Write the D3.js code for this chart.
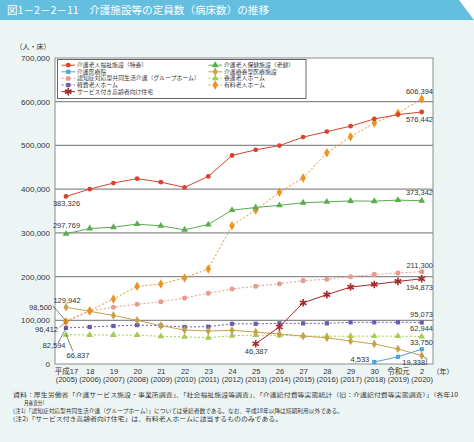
<!DOCTYPE html>
<html>
<head>
<meta charset="utf-8">
<script src="https://cdn.jsdelivr.net/npm/d3@7"></script>
<style>
  body { margin: 0; background: #fff; }
  svg { display: block; }
</style>
</head>
<body>
<div id="chart"></div>
<script>
// data
var years = [2005, 2006, 2007, 2008, 2009, 2010, 2011, 2012, 2013, 2014, 2015, 2016, 2017, 2018, 2019, 2020];
var eraLabels = ["平成17", "18", "19", "20", "21", "22", "23", "24", "25", "26", "27", "28", "29", "30", "令和元", "2"];
var yTicks = [0, 100000, 200000, 300000, 400000, 500000, 600000, 700000];

var tokuyo = [383326, 400000, 414000, 424000, 416000, 404000, 429000, 477000, 490000, 499600, 519000, 531600, 544000, 560600, 570500, 576442];
var roken = [297769, 310000, 313000, 320000, 316000, 307000, 319000, 352000, 358000, 363000, 369000, 371000, 373000, 372500, 375000, 373342];
var iryoin = [null, null, null, null, null, null, null, null, null, null, null, null, null, 4533, 16500, 33750];
var ryoyo = [129942, 120500, 111000, 100000, 87700, 77800, 75500, 77000, 73000, 68600, 64000, 60000, 52600, 45800, 34300, 19338];
var grouphome = [98500, 121000, 130000, 136600, 142600, 151000, 161700, 171600, 177800, 183800, 190700, 193800, 199800, 205000, 208000, 211300];
var yogo = [66837, 66400, 66400, 66000, 63300, 62000, 60200, 64800, 66000, 65600, 64000, 63500, 63700, 63700, 63700, 62944];
var keihi = [82594, 84700, 87000, 89000, 87700, 84700, 85400, 92000, 92000, 93000, 93000, 93000, 95400, 95400, 95400, 95073];
var yuryo = [96412, 122000, 148700, 177800, 183000, 196800, 217400, 316500, 352000, 393000, 425600, 483000, 520000, 551500, 573700, 606394];
var sakoju = [null, null, null, null, null, null, null, null, 46387, 84700, 140000, 158700, 176000, 182000, 189000, 194873];

var numFont = "'Liberation Sans', 'Noto Sans CJK JP', sans-serif";
var jpFont = "'Noto Sans CJK JP', sans-serif";

var series = {
  grouphome: { name: "認知症対応型共同生活介護（グループホーム）", values: grouphome, color: "#e69b91", symbol: d3.symbolCircle, size: 20, dash: "2,2" },
  yogo:      { name: "養護老人ホーム", values: yogo, color: "#a5cd55", symbol: d3.symbolTriangle, size: 20, dash: "2,2" },
  keihi:     { name: "軽費老人ホーム", values: keihi, color: "#6a5cae", symbol: d3.symbolSquare, size: 18, dash: "2,2" },
  ryoyo:     { name: "介護療養型医療施設", values: ryoyo, color: "#c7a24b", symbol: d3.symbolDiamond, size: 22, dash: null },
  iryoin:    { name: "介護医療院", values: iryoin, color: "#4fa3dc", symbol: d3.symbolSquare, size: 18, dash: null },
  yuryo:     { name: "有料老人ホーム", values: yuryo, color: "#ec9422", symbol: d3.symbolDiamond, size: 26, dash: "2,2" },
  sakoju:    { name: "サービス付き高齢者向け住宅", values: sakoju, color: "#a52a2a", symbol: d3.symbolAsterisk, size: 40, dash: null, stroke: true },
  roken:     { name: "介護老人保健施設（老健）", values: roken, color: "#5aac4f", symbol: d3.symbolTriangle, size: 20, dash: null },
  tokuyo:    { name: "介護老人福祉施設（特養）", values: tokuyo, color: "#d8432e", symbol: d3.symbolCircle, size: 18, dash: null }
};
var drawOrder = ["grouphome", "yogo", "keihi", "ryoyo", "iryoin", "yuryo", "sakoju", "roken", "tokuyo"];
var legendLeft = ["tokuyo", "iryoin", "grouphome", "keihi", "sakoju"];
var legendRight = ["roken", "ryoyo", "yogo", "yuryo"];

var svgWidth = 474;
var svgHeight = 442;
var plot = { left: 55, top: 58, right: 433, bottom: 364 };

var svg = d3.select("#chart")
  .append("svg")
  .attr("width", svgWidth)
  .attr("height", svgHeight);

// background + title bar
svg.append("rect").attr("width", svgWidth).attr("height", svgHeight).attr("fill", "#edf5f4");
svg.append("rect").attr("width", svgWidth).attr("height", 20).attr("fill", "#ffffff");
svg.append("path").attr("d", "M0,0H459L474,20H0Z").attr("fill", "#63bedf");
svg.append("text")
  .attr("x", 7).attr("y", 13.8)
  .attr("font-family", jpFont).attr("font-size", 10).attr("fill", "#fff")
  .attr("textLength", 262).attr("lengthAdjust", "spacingAndGlyphs")
  .text("図1－2－2－11　介護施設等の定員数（病床数）の推移");

// scales
var x = d3.scalePoint().domain(years).range([66, 421.7]);
var y = d3.scaleLinear().domain([0, 700000]).range([plot.bottom, plot.top]);

// plot frame and grid
svg.append("rect")
  .attr("x", plot.left).attr("y", plot.top)
  .attr("width", plot.right - plot.left).attr("height", plot.bottom - plot.top)
  .attr("fill", "#fff").attr("stroke", "#8c8c8c").attr("stroke-width", 1);

svg.append("g").selectAll("line")
  .data(yTicks.slice(1, -1))
  .enter().append("line")
  .attr("x1", plot.left).attr("x2", plot.right)
  .attr("y1", d => y(d)).attr("y2", d => y(d))
  .attr("stroke", "#8c8c8c").attr("stroke-width", 1.2);

// axes
var gy = svg.append("g")
  .attr("transform", `translate(${plot.left},0)`)
  .call(d3.axisLeft(y).tickValues(yTicks).tickFormat(d3.format(",")).tickSize(0).tickPadding(5));
gy.select(".domain").remove();
gy.selectAll("text").attr("font-size", 8).attr("font-family", numFont).attr("fill", "#333");

var gx = svg.append("g")
  .attr("transform", `translate(0,${plot.bottom})`)
  .call(d3.axisBottom(x).tickSize(0).tickPadding(4.2).tickFormat((d, i) => eraLabels[i]));
gx.select(".domain").remove();
gx.selectAll(".tick").append("text")
  .attr("y", 12.2).attr("dy", "0.71em")
  .attr("fill", "#333")
  .text(d => `(${d})`);
gx.selectAll("text").attr("font-size", 7.5).attr("font-family", numFont).attr("fill", "#333");

svg.append("text")
  .attr("x", 443).attr("y", 373.5).attr("text-anchor", "middle")
  .attr("font-family", jpFont).attr("font-size", 7).attr("fill", "#333")
  .text("（年）");
svg.append("text")
  .attr("x", 33).attr("y", 48.5).attr("text-anchor", "middle")
  .attr("font-family", jpFont).attr("font-size", 7).attr("fill", "#333")
  .text("（人・床）");

// lines + markers
var line = d3.line()
  .defined(d => d != null)
  .x((d, i) => x(years[i]))
  .y(d => y(d));

function marker(sel, s) {
  sel.attr("d", d3.symbol(s.symbol, s.size)())
    .attr("fill", s.stroke ? "none" : s.color)
    .attr("stroke", s.stroke ? s.color : "none")
    .attr("stroke-width", s.stroke ? 1.6 : 0);
}

drawOrder.forEach(function(key) {
  var s = series[key];
  var g = svg.append("g");
  g.append("path")
    .datum(s.values)
    .attr("d", line)
    .attr("fill", "none")
    .attr("stroke", s.color)
    .attr("stroke-width", 1)
    .attr("stroke-dasharray", s.dash);

  var pts = s.values.map((v, i) => ({ v: v, year: years[i] })).filter(p => p.v != null);
  g.selectAll("path.pt")
    .data(pts)
    .enter().append("path")
    .attr("class", "pt")
    .attr("transform", p => `translate(${x(p.year)},${y(p.v)})`)
    .call(marker, s);
});

// value labels
var notes = [
  { s: "tokuyo", i: 0, dx: 0.5, dy: 10, anchor: "middle" },
  { s: "roken", i: 0, dx: 0.5, dy: -5.5, anchor: "middle" },
  { s: "ryoyo", i: 0, dx: 1, dy: -4.5, anchor: "middle" },
  { s: "grouphome", i: 0, dx: -14, dy: -11, anchor: "end", lead: [-13, -15] },
  { s: "yuryo", i: 0, dx: -8, dy: 9.7, anchor: "end", lead: [-6.5, 5.7] },
  { s: "keihi", i: 0, dx: -0.5, dy: 20.6, anchor: "end", lead: [-8, 15.5] },
  { s: "yogo", i: 0, dx: 0.5, dy: 23, anchor: "start", lead: [7, 16.5] },
  { s: "sakoju", i: 8, dx: 0.5, dy: 10.5, anchor: "middle" },
  { s: "iryoin", i: 13, dx: -5, dy: 0, anchor: "end" },
  { s: "yuryo", i: 15, dx: 11.3, dy: -5.4, anchor: "end" },
  { s: "tokuyo", i: 15, dx: 11.3, dy: 9.5, anchor: "end" },
  { s: "roken", i: 15, dx: 11.3, dy: -5.8, anchor: "end" },
  { s: "grouphome", i: 15, dx: 11.3, dy: -4, anchor: "end" },
  { s: "sakoju", i: 15, dx: 11.3, dy: 11.2, anchor: "end" },
  { s: "keihi", i: 15, dx: 11.3, dy: -5.6, anchor: "end" },
  { s: "yogo", i: 15, dx: 11.3, dy: -5, anchor: "end" },
  { s: "iryoin", i: 15, dx: 11.3, dy: -4, anchor: "end" },
  { s: "ryoyo", i: 15, dx: 3.5, dy: 9, anchor: "end", bracket: true }
];

var gn = svg.append("g");
notes.forEach(function(n) {
  var v = series[n.s].values[n.i];
  var px = x(years[n.i]);
  var py = y(v);
  if (n.lead) {
    gn.append("line")
      .attr("x1", px).attr("y1", py)
      .attr("x2", px + n.lead[0]).attr("y2", py + n.lead[1])
      .attr("stroke", "#333").attr("stroke-width", 0.6);
  }
  if (n.bracket) {
    gn.append("path")
      .attr("d", `M${px + 1.5},${py + 1}L${px + 5},${py + 3}L${px + 5},${py + 9}L${px + 3.5},${py + 9}`)
      .attr("fill", "none").attr("stroke", "#333").attr("stroke-width", 0.6);
  }
  gn.append("text")
    .attr("x", px + n.dx).attr("y", py + n.dy)
    .attr("text-anchor", n.anchor)
    .attr("font-family", numFont).attr("font-size", 7.5).attr("fill", "#333")
    .text(d3.format(",")(v));
});

// legend
var lg = svg.append("g");
lg.append("rect")
  .attr("x", 57.5).attr("y", 59.5).attr("width", 248.5).attr("height", 39)
  .attr("fill", "#fff").attr("stroke", "#666").attr("stroke-width", 1);

function legendColumn(keys, x0) {
  keys.forEach(function(key, i) {
    var s = series[key];
    var ly = 65.2 + i * 6.6;
    lg.append("line")
      .attr("x1", x0).attr("x2", x0 + 13.5)
      .attr("y1", ly).attr("y2", ly)
      .attr("stroke", s.color).attr("stroke-width", 1)
      .attr("stroke-dasharray", s.dash);
    lg.append("path")
      .attr("transform", `translate(${x0 + 6.75},${ly})`)
      .call(marker, s);
    lg.append("text")
      .attr("x", x0 + 15.5).attr("y", ly + 2)
      .attr("font-family", jpFont).attr("font-size", 5.4).attr("fill", "#333")
      .attr("textLength", s.name.length * 5.85).attr("lengthAdjust", "spacingAndGlyphs")
      .text(s.name);
  });
}
legendColumn(legendLeft, 61.5);
legendColumn(legendRight, 208.5);

// sources and notes
var footnotes = [
  { text: "資料：厚生労働省「介護サービス施設・事業所調査」、「社会福祉施設等調査」、「介護給付費等実態統計（旧：介護給付費等実態調査）」（各年10", x: 13, y: 396.5, w: 445 },
  { text: "月審査分）", x: 24, y: 404.5, w: 23 },
  { text: "(注1)「認知症対応型共同生活介護（グループホーム）」については受給者数である。なお、平成18年以降は短期利用以外である。", x: 13, y: 412.5, w: 330 },
  { text: "(注2)「サービス付き高齢者向け住宅」は、有料老人ホームに該当するもののみである。", x: 13, y: 420.5, w: 269 }
];
svg.append("g").selectAll("text")
  .data(footnotes)
  .enter().append("text")
  .attr("x", d => d.x).attr("y", d => d.y)
  .attr("textLength", d => d.w).attr("lengthAdjust", "spacingAndGlyphs")
  .attr("font-family", jpFont).attr("font-size", 5.5).attr("fill", "#333")
  .text(d => d.text);
</script>
</body>
</html>
